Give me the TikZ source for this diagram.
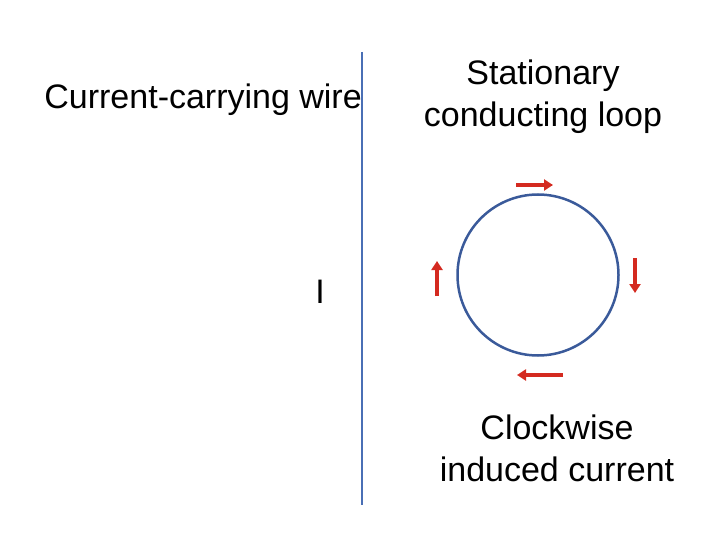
\documentclass[tikz,border=0pt]{standalone}
\usepackage{fontspec}
\setmainfont{Liberation Sans}
\usetikzlibrary{arrows.meta}
\definecolor{wireblue}{HTML}{4A6FB5}
\definecolor{loopblue}{HTML}{3A5A9A}
\definecolor{arrred}{HTML}{D42A20}
\begin{document}
\begin{tikzpicture}[x=1pt,y=-1pt,
  lbl/.style={font=\fontsize{34}{42}\selectfont,align=center,inner sep=0pt},
  redarr/.style={draw=arrred,line width=3.5pt,-{Triangle[length=9pt,width=11pt]}}]
\useasboundingbox (0,0) rectangle (712,540);
\coordinate (wt) at (362,52);
\coordinate (wb) at (362,505);
\draw[wireblue,line width=2.5pt] (wt) -- (wb);
\node[lbl,anchor=east] (wl) at (362,100) {Current-carrying wire};
\node[lbl] (st) at (543,97) {Stationary\\conducting loop};
\node[lbl] (cur) at (320,292) {I};
\node[draw=loopblue,line width=2.5pt,circle,minimum size=161pt,inner sep=0pt] (loop) at (538,275) {};
\coordinate (a1) at (516,185); \coordinate (a2) at (553,185);
\coordinate (b1) at (635,258); \coordinate (b2) at (635,293);
\coordinate (c1) at (563,375); \coordinate (c2) at (517,375);
\coordinate (d1) at (437,296); \coordinate (d2) at (437,261);
\draw[redarr] (a1) -- (a2);
\draw[redarr] (b1) -- (b2);
\draw[redarr] (c1) -- (c2);
\draw[redarr] (d1) -- (d2);
\node[lbl] (cw) at (557,448) {Clockwise\\induced current};
\end{tikzpicture}
\end{document}
